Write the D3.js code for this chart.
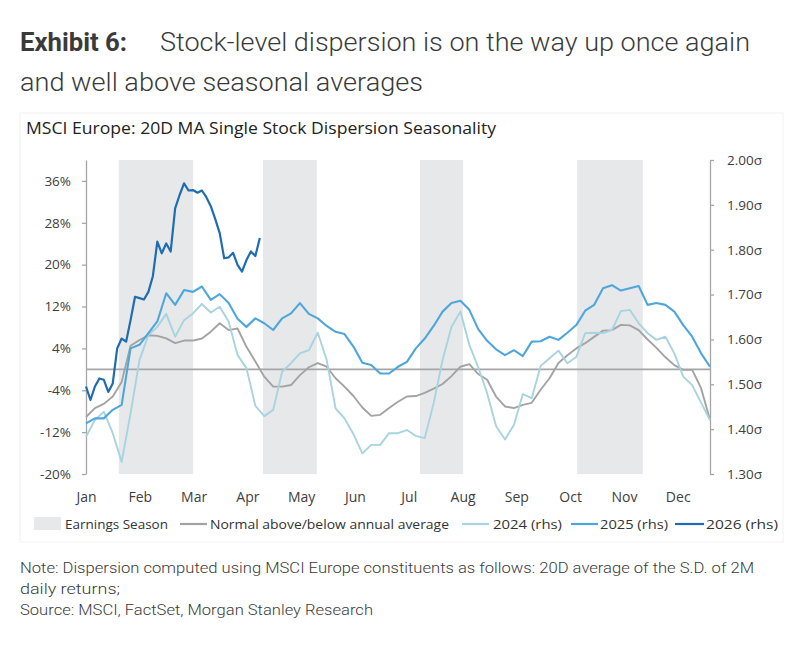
<!DOCTYPE html>
<html>
<head>
<meta charset="utf-8">
<script src="https://cdn.jsdelivr.net/npm/d3@7/dist/d3.min.js"></script>
<style>
  body { margin: 0; background: #fff; }
  svg { display: block; }
</style>
</head>
<body>
<svg width="810" height="649"></svg>
<script>
// month labels on the x axis
const months = ['Jan', 'Feb', 'Mar', 'Apr', 'May', 'Jun', 'Jul', 'Aug', 'Sep', 'Oct', 'Nov', 'Dec'];

// earnings season bands, in months from Jan
const earningsStart = [0.61, 3.29, 6.21, 9.13];
const earningsEnd = [1.99, 4.29, 7.01, 10.35];

const leftTicks = [-20, -12, -4, 4, 12, 20, 28, 36];
const rightTicks = [1.3, 1.4, 1.5, 1.6, 1.7, 1.8, 1.9, 2.0];

// one reading every ~1/6 of a month, lhs in %
const normalAvg = [
  -9.1, -7.4, -6.6, -5.2, -2.4, 4.5, 5.6, 6.5, 6.4, 5.9,
  5.0, 5.5, 5.5, 5.9, 7.2, 8.8, 7.5, 7.8, 4.3, 1.5,
  -1.4, -3.3, -3.3, -3.0, -1.1, 0.4, 1.2, 0.5, -1.7, -3.3,
  -5.1, -7.3, -8.9, -8.7, -7.4, -6.2, -5.2, -5.1, -4.5, -3.7,
  -2.8, -1.3, 0.5, 1.0, -0.9, -2.0, -5.2, -7.1, -7.4, -6.8,
  -6.4, -3.9, -1.7, 1.2, 2.7, 4.0, 5.0, 6.2, 7.4, 7.5,
  8.5, 8.4, 7.5, 5.7, 4.1, 2.3, 0.8, -0.1, -0.1, -3.6,
  -9.7
];

// rhs, in sigma
const y2024 = [
  1.383, 1.420, 1.439, 1.391, 1.327, 1.435, 1.554, 1.610, 1.628, 1.657,
  1.606, 1.643, 1.658, 1.679, 1.660, 1.673, 1.640, 1.565, 1.536, 1.452,
  1.429, 1.443, 1.528, 1.547, 1.569, 1.576, 1.615, 1.554, 1.446, 1.424,
  1.389, 1.346, 1.365, 1.365, 1.391, 1.391, 1.398, 1.385, 1.380, 1.458,
  1.554, 1.628, 1.662, 1.588, 1.538, 1.480, 1.407, 1.377, 1.409, 1.478,
  1.469, 1.541, 1.558, 1.575, 1.547, 1.561, 1.614, 1.615, 1.614, 1.621,
  1.663, 1.666, 1.636, 1.614, 1.599, 1.606, 1.569, 1.517, 1.498, 1.459,
  1.420
];

const y2025 = [
  1.413, 1.424, 1.424, 1.443, 1.454, 1.580, 1.588, 1.614, 1.640, 1.703,
  1.677, 1.710, 1.706, 1.718, 1.688, 1.701, 1.681, 1.646, 1.628, 1.647,
  1.636, 1.621, 1.647, 1.658, 1.681, 1.657, 1.647, 1.630, 1.617, 1.612,
  1.584, 1.548, 1.543, 1.524, 1.524, 1.539, 1.550, 1.580, 1.602, 1.630,
  1.662, 1.681, 1.686, 1.666, 1.623, 1.597, 1.578, 1.565, 1.576, 1.563,
  1.595, 1.596, 1.606, 1.599, 1.615, 1.632, 1.664, 1.677, 1.714, 1.721,
  1.709, 1.714, 1.719, 1.677, 1.681, 1.677, 1.662, 1.632, 1.606, 1.569,
  1.539
];

// 2026 read twice as often (every ~1/12 of a month)
const y2026 = [
  1.495, 1.465, 1.495, 1.513, 1.510, 1.483, 1.502, 1.580, 1.602, 1.595,
  1.643, 1.695, 1.692, 1.689, 1.706, 1.741, 1.818, 1.792, 1.814, 1.796,
  1.892, 1.922, 1.948, 1.932, 1.933, 1.927, 1.932, 1.917, 1.897, 1.868,
  1.837, 1.781, 1.783, 1.793, 1.766, 1.751, 1.777, 1.796, 1.786, 1.826
];

const legendLabels = ['Earnings Season', 'Normal above/below annual average', '2024 (rhs)', '2025 (rhs)', '2026 (rhs)'];

const lastMonth = 11.6;
const step = lastMonth / (normalAvg.length - 1);

const plot = { left: 86, right: 710, top: 160, bottom: 474 };
const colors = { band: '#e7e8ea', normal: '#a3a3a3', c2024: '#a8d3e1', c2025: '#4ea7dc', c2026: '#1f6cb0', axis: '#a6a6a6', text: '#404040' };

const x = d3.scaleLinear().domain([0, lastMonth]).range([plot.left, plot.right]);
const yL = d3.scaleLinear().domain([-20, 40]).range([plot.bottom, plot.top]);
const yR = d3.scaleLinear().domain([1.3, 2.0]).range([plot.bottom, plot.top]);

const svg = d3.select('svg');
const chartFont = 'Open Sans, Noto Sans, sans-serif';

// page title
const title = svg.append('g').attr('font-family', 'Roboto, sans-serif').attr('fill', '#3a3a3a').attr('font-size', 25);
title.append('text').attr('x', 20).attr('y', 51).attr('font-weight', 700)
  .attr('textLength', 107).attr('lengthAdjust', 'spacingAndGlyphs').text('Exhibit 6:');
title.append('text').attr('x', 160).attr('y', 51).attr('font-weight', 300)
  .attr('textLength', 590).attr('lengthAdjust', 'spacingAndGlyphs').text('Stock-level dispersion is on the way up once again');
title.append('text').attr('x', 20).attr('y', 91).attr('font-weight', 300)
  .attr('textLength', 403).attr('lengthAdjust', 'spacingAndGlyphs').text('and well above seasonal averages');

// faint frame of the chart image
svg.append('rect').attr('x', 20).attr('y', 113).attr('width', 763).attr('height', 429)
  .attr('fill', 'none').attr('stroke', '#f2f2f2');

svg.append('text').attr('x', 26).attr('y', 134).attr('font-family', chartFont).attr('font-size', 17)
  .attr('fill', '#222').attr('textLength', 470).attr('lengthAdjust', 'spacingAndGlyphs')
  .text('MSCI Europe: 20D MA Single Stock Dispersion Seasonality');

// earnings season shading
svg.append('g').selectAll('rect')
  .data(earningsStart)
  .enter()
  .append('rect')
  .attr('x', (d) => x(d))
  .attr('width', (d, i) => x(earningsEnd[i]) - x(d))
  .attr('y', plot.top)
  .attr('height', plot.bottom - plot.top)
  .attr('fill', colors.band);

// axes
const leftAxis = svg.append('g').attr('transform', `translate(${plot.left},0)`)
  .call(d3.axisLeft(yL).tickValues(leftTicks).tickSize(4).tickSizeOuter(0).tickPadding(11).tickFormat((d) => d + '%'));
const rightAxis = svg.append('g').attr('transform', `translate(${plot.right},0)`)
  .call(d3.axisRight(yR).tickValues(rightTicks).tickSize(4).tickSizeOuter(0).tickPadding(13).tickFormat((d) => d.toFixed(2) + 'σ'));
const bottomAxis = svg.append('g').attr('transform', `translate(0,${plot.bottom})`)
  .call(d3.axisBottom(x).tickValues(months.map((m, i) => i)).tickSize(0).tickPadding(18).tickFormat((i) => months[i]));
bottomAxis.select('.domain').remove();

[leftAxis, rightAxis, bottomAxis].forEach((g) => {
  g.selectAll('path, line').attr('stroke', colors.axis).attr('stroke-width', 1.3);
  g.selectAll('text').attr('fill', colors.text).attr('font-family', chartFont).attr('font-size', 13.5);
});
bottomAxis.selectAll('text').attr('font-size', 14);

// zero line
svg.append('line')
  .attr('x1', plot.left).attr('x2', plot.right)
  .attr('y1', yL(0)).attr('y2', yL(0))
  .attr('stroke', colors.axis).attr('stroke-width', 1.6);

const lineL = d3.line().x((d, i) => x(i * step)).y((d) => yL(d));
const lineR = d3.line().x((d, i) => x(i * step)).y((d) => yR(d));
const lineFine = d3.line().x((d, i) => x(i * step / 2)).y((d) => yR(d));

const series = [
  { values: normalAvg, gen: lineL, color: colors.normal, w: 1.9 },
  { values: y2024, gen: lineR, color: colors.c2024, w: 1.9 },
  { values: y2025, gen: lineR, color: colors.c2025, w: 2.1 },
  { values: y2026, gen: lineFine, color: colors.c2026, w: 2.2 },
];

svg.append('g').selectAll('path')
  .data(series)
  .enter()
  .append('path')
  .attr('d', (s) => s.gen(s.values))
  .attr('fill', 'none')
  .attr('stroke', (s) => s.color)
  .attr('stroke-width', (s) => s.w)
  .attr('stroke-linejoin', 'round');

// legend
const legendY = 524;
const legendPos = [
  { sx: 34, sw: 27, tx: 65, tl: 103 },
  { sx: 180, sw: 27, tx: 210, tl: 239 },
  { sx: 462, sw: 27, tx: 493, tl: 69 },
  { sx: 571, sw: 27, tx: 600, tl: 68 },
  { sx: 675, sw: 29, tx: 706, tl: 72 },
];
const legendColors = [colors.band, colors.normal, colors.c2024, colors.c2025, colors.c2026];
const legend = svg.append('g').attr('font-family', chartFont).attr('font-size', 13.5).attr('fill', '#333');

legendLabels.forEach((label, i) => {
  const p = legendPos[i];
  if (i === 0) {
    legend.append('rect').attr('x', p.sx).attr('y', legendY - 7).attr('width', p.sw).attr('height', 13).attr('fill', legendColors[i]);
  } else {
    legend.append('line').attr('x1', p.sx).attr('x2', p.sx + p.sw).attr('y1', legendY).attr('y2', legendY)
      .attr('stroke', legendColors[i]).attr('stroke-width', 2.2);
  }
  legend.append('text').attr('x', p.tx).attr('y', legendY + 5)
    .attr('textLength', p.tl).attr('lengthAdjust', 'spacingAndGlyphs').text(label);
});

// notes
const notes = svg.append('g').attr('font-family', 'Roboto, sans-serif').attr('font-weight', 300).attr('font-size', 15.5).attr('fill', '#3a3a3a');
notes.append('text').attr('x', 20).attr('y', 573).attr('textLength', 734).attr('lengthAdjust', 'spacingAndGlyphs')
  .text('Note: Dispersion computed using MSCI Europe constituents as follows: 20D average of the S.D. of 2M');
notes.append('text').attr('x', 20).attr('y', 594).attr('textLength', 100).attr('lengthAdjust', 'spacingAndGlyphs')
  .text('daily returns;');
notes.append('text').attr('x', 20).attr('y', 615).attr('textLength', 353).attr('lengthAdjust', 'spacingAndGlyphs')
  .text('Source: MSCI, FactSet, Morgan Stanley Research');
</script>
</body>
</html>
